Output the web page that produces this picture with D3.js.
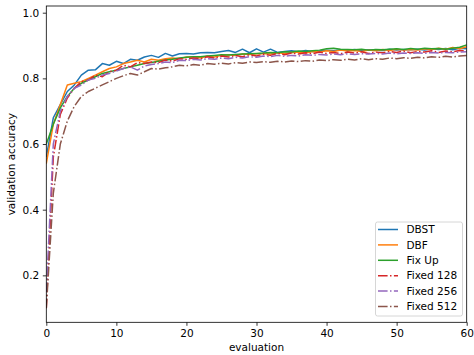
<!DOCTYPE html>
<html><head><meta charset="utf-8">
<script src="https://cdn.jsdelivr.net/npm/d3@7"></script>
<style>body{margin:0;background:#fff}svg{display:block}text{font-family:"DejaVu Sans",sans-serif}</style>
</head><body><svg id="c" width="474" height="355"></svg>
<script>
const seriesNames = ["DBST","DBF","Fix Up","Fixed 128","Fixed 256","Fixed 512"];
const evaluations = d3.range(0, 61);
const dbst = [0.56,0.68,0.72,0.76,0.78,0.81,0.825,0.826,0.845,0.84,0.852,0.845,0.858,0.855,0.865,0.87,0.864,0.876,0.868,0.875,0.876,0.874,0.878,0.879,0.878,0.882,0.885,0.879,0.889,0.878,0.89,0.88,0.889,0.879,0.882,0.884,0.881,0.885,0.882,0.883,0.886,0.884,0.887,0.885,0.888,0.884,0.887,0.886,0.885,0.889,0.886,0.888,0.887,0.889,0.886,0.89,0.888,0.891,0.887,0.892,0.89];
const dbf = [0.54,0.66,0.72,0.78,0.785,0.79,0.8,0.81,0.82,0.83,0.835,0.845,0.85,0.855,0.85,0.858,0.855,0.86,0.862,0.86,0.865,0.866,0.862,0.868,0.865,0.87,0.872,0.87,0.874,0.873,0.875,0.876,0.874,0.878,0.876,0.878,0.88,0.877,0.882,0.88,0.884,0.882,0.886,0.883,0.885,0.882,0.886,0.884,0.888,0.885,0.889,0.886,0.888,0.886,0.89,0.888,0.892,0.889,0.894,0.89,0.896];
const fixUp = [0.6,0.66,0.71,0.745,0.77,0.785,0.795,0.805,0.815,0.82,0.825,0.83,0.835,0.84,0.845,0.848,0.852,0.856,0.858,0.862,0.864,0.866,0.866,0.868,0.87,0.872,0.871,0.873,0.874,0.875,0.876,0.877,0.879,0.878,0.881,0.88,0.883,0.882,0.884,0.886,0.89,0.892,0.889,0.888,0.887,0.889,0.886,0.888,0.887,0.889,0.89,0.888,0.891,0.889,0.892,0.89,0.891,0.889,0.892,0.895,0.902];
const fixed128 = [0.1,0.56,0.69,0.74,0.77,0.79,0.795,0.81,0.805,0.82,0.825,0.84,0.835,0.848,0.845,0.85,0.848,0.856,0.852,0.86,0.858,0.862,0.86,0.866,0.862,0.868,0.865,0.87,0.866,0.872,0.868,0.874,0.87,0.876,0.872,0.877,0.874,0.878,0.875,0.88,0.876,0.879,0.875,0.88,0.877,0.881,0.876,0.88,0.878,0.882,0.879,0.883,0.878,0.882,0.88,0.884,0.879,0.883,0.881,0.885,0.884];
const fixed256 = [0.15,0.6,0.7,0.745,0.77,0.78,0.795,0.8,0.81,0.815,0.822,0.83,0.835,0.825,0.838,0.842,0.845,0.85,0.848,0.855,0.854,0.858,0.856,0.86,0.858,0.862,0.86,0.864,0.862,0.866,0.864,0.868,0.866,0.87,0.867,0.87,0.868,0.872,0.87,0.873,0.871,0.874,0.872,0.875,0.873,0.875,0.874,0.876,0.874,0.877,0.875,0.877,0.876,0.878,0.876,0.879,0.877,0.879,0.878,0.88,0.881];
const fixed512 = [0.1,0.45,0.6,0.67,0.715,0.745,0.76,0.77,0.78,0.79,0.8,0.808,0.815,0.81,0.82,0.83,0.828,0.832,0.835,0.84,0.838,0.842,0.84,0.845,0.843,0.846,0.844,0.848,0.846,0.85,0.848,0.851,0.849,0.852,0.85,0.853,0.851,0.854,0.852,0.856,0.854,0.857,0.855,0.858,0.856,0.86,0.857,0.86,0.858,0.862,0.86,0.863,0.861,0.864,0.862,0.866,0.864,0.867,0.865,0.868,0.87];
const xTicks = [0,10,20,30,40,50,60];
const yTicks = [0.2,0.4,0.6,0.8,1.0];

const seriesValues = [dbst, dbf, fixUp, fixed128, fixed256, fixed512];
const colors = ["#1f77b4","#ff7f0e","#2ca02c","#d62728","#9467bd","#8c564b"];
const dashes = [null,null,null,"9.6,2.4,1.5,2.4","9.6,2.4,1.5,2.4","9.6,2.4,1.5,2.4"];

const svg = d3.select("#c");
const L = 46.3, R = 466.7, T = 6, B = 322.3;
const x = d3.scaleLinear().domain([0,60]).range([L,R]);
const y = d3.scaleLinear().domain([0.057,1.0204]).range([B,T]);

svg.append("defs").append("clipPath").attr("id","clp")
  .append("rect").attr("x",L).attr("y",T).attr("width",R-L).attr("height",B-T);

const g = svg.append("g").attr("clip-path","url(#clp)");
const line = d3.line().x((d,i)=>x(evaluations[i])).y(d=>y(d));
seriesValues.forEach((vals,k)=>{
  g.append("path").attr("d", line(vals)).attr("fill","none")
   .attr("stroke", colors[k]).attr("stroke-width",1.5)
   .attr("stroke-dasharray", dashes[k]).attr("stroke-linejoin","round");
});

const FS = 10.5;
const xAxis = svg.append("g").attr("transform",`translate(0,${B})`)
  .call(d3.axisBottom(x).tickValues(xTicks).tickSize(3.5).tickPadding(3.5).tickFormat(d3.format("d")));
const yAxis = svg.append("g").attr("transform",`translate(${L},0)`)
  .call(d3.axisLeft(y).tickValues(yTicks).tickSize(3.5).tickPadding(3.5).tickFormat(d3.format(".1f")));
[xAxis,yAxis].forEach(a=>{
  a.select(".domain").remove();
  a.selectAll("line").attr("stroke","#000").attr("stroke-width",0.8);
  a.selectAll("text").attr("font-size",FS).attr("fill","#000").attr("font-family","DejaVu Sans");
});
svg.append("rect").attr("x",L).attr("y",T).attr("width",R-L).attr("height",B-T)
  .attr("fill","none").attr("stroke","#000").attr("stroke-width",0.8);

svg.append("text").attr("x",(L+R)/2).attr("y",351).attr("text-anchor","middle")
  .attr("font-size",FS).text("evaluation");
svg.append("text").attr("transform",`translate(15,${(T+B)/2}) rotate(-90)`).attr("text-anchor","middle")
  .attr("font-size",FS).text("validation accuracy");

const lg = svg.append("g");
lg.append("rect").attr("x",375.5).attr("y",222).attr("width",87).attr("height",94).attr("rx",2)
  .attr("fill","#fff").attr("fill-opacity",0.8).attr("stroke","#ccc").attr("stroke-width",0.8);
seriesNames.forEach((n,k)=>{
  const yy = 229.5 + k*15.4;
  lg.append("line").attr("x1",378).attr("x2",398).attr("y1",yy).attr("y2",yy)
    .attr("stroke",colors[k]).attr("stroke-width",1.5).attr("stroke-dasharray",dashes[k]);
  lg.append("text").attr("x",406.5).attr("y",yy).attr("dy","0.35em").attr("font-size",FS).text(n);
});
</script></body></html>
